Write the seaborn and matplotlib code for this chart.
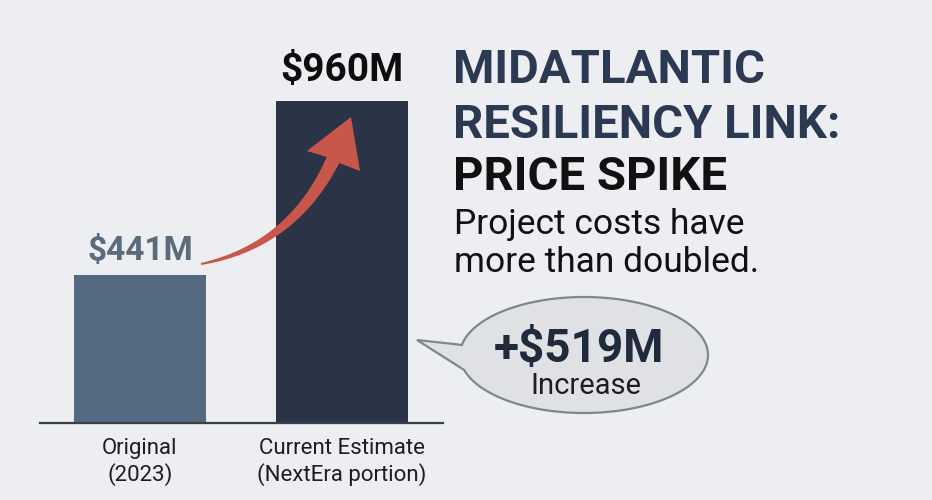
import numpy as np
import pandas as pd
import matplotlib.pyplot as plt
import seaborn as sns
from matplotlib.path import Path
from matplotlib.patches import PathPatch, Polygon

# -------------------------
# Data
# -------------------------
categories = ["Original\n(2023)", "Current Estimate\n(NextEra portion)"]
costs = [441, 960]                      # $M
cost_labels = ["$441M", "$960M"]
bar_colors = ["#536a80", "#2b3447"]
label_colors = ["#5b6b7c", "#0d0d0d"]
label_sizes = [24, 28]
increase_label = "+$519M"

title_lines = ["MIDATLANTIC", "RESILIENCY LINK:", "PRICE SPIKE"]
subtitle_lines = ["Project costs have", "more than doubled."]

W, H = 932, 500
BG = "#eceef1"

sns.set_theme(style="white")
plt.rcParams["font.family"] = ["Roboto", "DejaVu Sans"]

fig = plt.figure(figsize=(W / 100, H / 100), dpi=100, facecolor=BG)


def fx(px):
    return px / W


def fy(py):
    return 1 - py / H


# axes: left 40px, right 443px, baseline at 423px
ax = fig.add_axes([fx(40), fy(423), (443 - 40) / W, 423 / H])
ax.set_facecolor(BG)

df = pd.DataFrame({"stage": categories, "cost": costs})
sns.barplot(data=df, x="stage", y="cost", hue="stage", palette=bar_colors,
            width=0.65, legend=False, ax=ax, saturation=1, linewidth=0)

ax.set_xlim(-0.495, 1.5)
ax.set_ylim(0, 423 / 0.335)
ax.set_xlabel("")
ax.set_ylabel("")
ax.set_yticks([])
for s in ["top", "left", "right"]:
    ax.spines[s].set_visible(False)
ax.spines["bottom"].set_color("#3a3f47")
ax.spines["bottom"].set_linewidth(1.6)
ax.tick_params(axis="x", length=0, pad=11, labelsize=16, labelcolor="#1e1e1e")

# value labels on the bars
for i, cont in enumerate(ax.containers):
    ax.bar_label(cont, labels=[cost_labels[i]], padding=6 + 3 * i,
                 fontsize=label_sizes[i], fontweight="bold",
                 color=label_colors[i])

# -------------------------
# Curved tapered arrow
# -------------------------
p0 = np.array([201, 264])
c = np.array([292, 246])
p2 = np.array([333, 160])
t = np.linspace(0, 1, 60)[:, None]
pts = (1 - t) ** 2 * p0 + 2 * (1 - t) * t * c + t ** 2 * p2
d = 2 * (1 - t) * (c - p0) + 2 * t * (p2 - c)
d = d / np.linalg.norm(d, axis=1)[:, None]
nrm = np.column_stack([-d[:, 1], d[:, 0]])
hw = (1.0 + 6.0 * t[:, 0])[:, None]
side_a = pts + nrm * hw
side_b = pts - nrm * hw
tip = np.array([351, 117])
base_a = np.array([307, 151])
base_b = np.array([360, 171])
if np.dot(base_a - p2, nrm[-1]) < 0:
    base_a, base_b = base_b, base_a
shape = np.vstack([side_a, base_a, tip, base_b, side_b[::-1]])
fig.patches.append(Polygon(np.column_stack([fx(shape[:, 0]), fy(shape[:, 1])]),
                           closed=True, transform=fig.transFigure,
                           facecolor="#c8564b", edgecolor="none", zorder=5))

# -------------------------
# Speech bubble
# -------------------------
cx, cy, a, b = 584, 355, 124, 58
ang = np.radians(np.linspace(195, 530, 200))
ex = cx + a * np.cos(ang)
ey = cy - b * np.sin(ang)
bx = np.concatenate([ex, [417], [ex[0]]])
by = np.concatenate([ey, [340], [ey[0]]])
verts = np.column_stack([fx(bx), fy(by)])
codes = [Path.MOVETO] + [Path.LINETO] * (len(verts) - 2) + [Path.CLOSEPOLY]
fig.patches.append(PathPatch(Path(verts, codes), transform=fig.transFigure,
                             facecolor="#dfe1e5", edgecolor="#80868f",
                             linewidth=1.6, zorder=4))
fig.text(fx(579), fy(362), increase_label, fontsize=33, fontweight="bold",
         color="#1f2a3b", ha="center", va="baseline", zorder=6)
fig.text(fx(586), fy(394), "Increase", fontsize=21, color="#1e1e1e",
         ha="center", va="baseline", zorder=6)

# -------------------------
# Headline text
# -------------------------
title_baselines = [83, 138, 190]
title_colors = ["#2b3a52", "#2b3a52", "#111111"]
for line, yb, col in zip(title_lines, title_baselines, title_colors):
    fig.text(fx(453), fy(yb), line, fontsize=34, fontweight="bold",
             color=col, ha="left", va="baseline")

for line, yb in zip(subtitle_lines, [234, 272]):
    fig.text(fx(454), fy(yb), line, fontsize=25.5, color="#111111",
             ha="left", va="baseline")

fig.savefig("out.png", dpi=100, facecolor=BG)
